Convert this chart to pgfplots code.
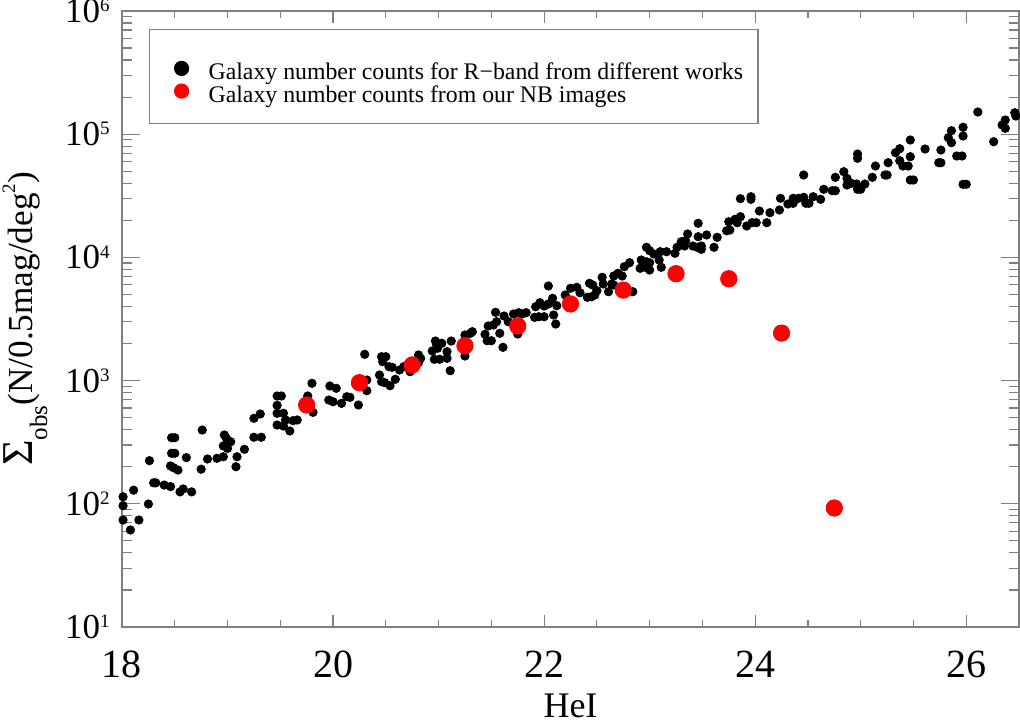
\documentclass[border=0pt]{standalone}
\usepackage{fontspec}
\setmainfont{Liberation Serif}
\usepackage{pgfplots}
\pgfplotsset{compat=1.18}
\definecolor{axgray}{RGB}{128,128,128}
\definecolor{nbred}{RGB}{255,0,0}
\newcommand{\pw}[1]{10\raisebox{5.4pt}{\fontsize{9.5pt}{9.5pt}\selectfont #1}}
\begin{document}
\begin{tikzpicture}
\begin{axis}[
  scale only axis, width=448.5pt, height=308pt,
  xmin=18, xmax=26.5, ymin=10, ymax=1e6, ymode=log,
  xtick={18,20,22,24,26}, xticklabels={18,20,22,24,26},
  minor x tick num=3,
  ytick={10,100,1000,10000,100000,1000000},
  yticklabels={\pw{1},\pw{2},\pw{3},\pw{4},\pw{5},\pw{6}},
  axis line style={axgray, line width=0.6pt},
  every tick/.style={axgray, line width=0.6pt},
  tick align=inside,
  major tick length=7.5pt, minor tick length=4.2pt,
  every major x tick/.append style={/pgfplots/major tick length=6pt},
  every minor x tick/.append style={/pgfplots/minor tick length=3.5pt},
  every major y tick/.append style={/pgfplots/major tick length=9pt},
  every minor y tick/.append style={/pgfplots/minor tick length=5pt},
  xticklabel style={font=\fontsize{20pt}{20pt}\selectfont, anchor=base, yshift=-25pt},
  yticklabel style={font=\fontsize{17.5pt}{17.5pt}\selectfont, anchor=east, inner sep=0pt, xshift=-6pt},
  xlabel={HeI},
  xlabel style={font=\fontsize{18pt}{18pt}\selectfont, at={(rel axis cs:0.5,-0.1461)}, anchor=base},
  ylabel={{\fontsize{22pt}{22pt}\selectfont Σ}\raisebox{-7.5pt}{\fontsize{12.5pt}{12.5pt}\selectfont obs}(N/0.5mag/deg\raisebox{8.5pt}{\fontsize{9.5pt}{9.5pt}\selectfont 2})},
  ylabel style={font=\fontsize{17.6pt}{17.6pt}\selectfont, at={(rel axis cs:-0.1003,0.5)}, anchor=base},
  legend cell align=left,
  legend style={at={(rel axis cs:0.0301,0.9708)}, anchor=north west, draw=axgray, line width=0.6pt,
    inner xsep=7.5pt, inner ysep=8.5pt, font=\fontsize{11.9pt}{13pt}\selectfont,
    nodes={inner sep=0pt}, row sep=0.3pt},
]
\addplot[only marks, mark=*, mark size=2.1pt, black,
  legend image code/.code={\fill[black] (0pt,2.3pt) circle (3.5pt); \path[draw=none,fill=none] (-8.5pt,-4pt) rectangle (13.5pt,13.2pt);}]
coordinates {
(18.01,114) (18.01,96.5) (18.01,73.9) (18.08,61.3) (18.16,73.9) (18.11,129) (18.25,99.6) (18.26,224)
(18.30,148) (18.32,148) (18.40,142) (18.46,138) (18.47,344) (18.50,344) (18.47,257) (18.50,257)
(18.46,203) (18.49,196) (18.53,188) (18.55,125) (18.58,132) (18.61,237) (18.66,125) (18.76,397)
(18.75,191) (18.81,231) (18.90,234) (18.96,241) (18.97,362) (18.99,340) (19.03,319) (18.96,295)
(19.00,282) (19.09,241) (19.08,200) (19.16,277) (19.25,494) (19.31,536) (19.25,347) (19.32,347)
(19.47,750) (19.51,750) (19.47,630) (19.47,543) (19.53,543) (19.47,436) (19.53,428) (19.55,479)
(19.59,390) (19.62,473) (19.66,479) (19.76,750) (19.81,553) (19.80,951) (19.97,904) (20.03,866)
(19.96,696) (20.00,674) (20.08,654) (20.13,740)
(20.16,732) (20.24,634) (20.30,1635) (20.32,1011) (20.32,828) (20.44,1110) (20.46,1563) (20.50,1563)
(20.47,1424) (20.46,980) (20.49,962) (20.54,909) (20.53,1297) (20.56,1282) (20.59,1025) (20.63,1219)
(20.67,1297) (20.81,1614) (20.83,1517) (20.81,1397) (20.73,1181) (20.94,1739) (20.97,2096) (20.98,1971)
(21.03,2008) (20.99,1829) (20.96,1489) (21.01,1489) (21.08,1717) (21.08,1517) (21.12,2096) (21.11,1203)
(21.25,1584) (21.25,2345) (21.30,2421) (21.32,2494) (21.44,2376) (21.46,2108) (21.50,2108) (21.47,2775)
(21.52,2827) (21.55,3007) (21.54,3584) (21.58,2421) (21.62,3345) (21.61,1863) (21.66,3007) (21.71,3472)
(21.76,3557) (21.79,3472) (21.83,3557) (21.75,2389) (21.91,3264) (21.95,3301) (22.00,3301) (21.92,3980)
(21.96,4288) (22.00,4032) (22.04,4185) (22.04,5860) (22.08,4656) (22.12,4055) (22.09,3408) (22.11,2880)
(22.20,4953) (22.25,5614) (22.31,5720) (22.34,5170) (22.43,6164) (22.46,5970) (22.41,4744) (22.45,4797)
(22.48,4953) (22.50,5367) (22.55,6895) (22.56,6083) (22.61,5268) (22.64,6083) (22.66,5970) (22.66,7063)
(22.70,7430) (22.74,7063) (22.76,8404) (22.81,9057) (22.84,5268) (22.91,8156) (22.96,8312) (23.00,7903)
(22.92,9526) (22.97,9229) (23.00,9057) (22.97,12080) (23.00,11334) (23.04,10656) (23.10,11124) (23.11,8312)
(23.09,9526) (23.16,11124) (23.24,10797) (23.26,12080) (23.30,13410) (23.33,12375) (23.34,13665) (23.36,15485)
(23.41,12375) (23.45,12080) (23.49,12375) (23.49,11636) (23.46,18915) (23.46,14723) (23.54,15199) (23.61,12080)
(23.64,14560) (23.73,16470) (23.76,16690) (23.75,19490) (23.81,20390) (23.86,21400) (23.83,19130) (23.86,29960)
(23.92,17980) (23.97,19130) (24.01,19130) (23.96,31100) (23.96,29620) (24.04,23800) (24.11,19130) (24.14,23060)
(24.23,24250) (24.24,30180)
(24.31,27140) (24.36,27490) (24.36,30180) (24.41,30180) (24.46,46650) (24.46,30740) (24.48,27490) (24.51,27490)
(24.55,31100) (24.62,29620) (24.65,35710) (24.73,34790) (24.76,34790) (24.76,44690) (24.84,49610) (24.87,43860)
(24.87,38700) (24.91,39950) (24.96,39430) (24.97,35710) (25.00,35710) (25.04,39430) (24.97,69070) (24.97,63740)
(25.11,44690) (25.14,55190) (25.23,46650) (25.25,46650) (25.26,58700) (25.33,70780) (25.37,76260) (25.37,60930)
(25.40,55190) (25.45,55190) (25.47,89740) (25.47,65680) (25.47,42490) (25.50,42490) (25.61,75840) (25.74,58700)
(25.76,58700) (25.76,74400) (25.83,93670) (25.86,85310) (25.86,106700) (25.91,66550) (25.96,66550) (25.97,113800)
(25.97,96690) (25.97,39210) (26.00,39210) (26.11,151400) (26.26,86910) (26.34,118800) (26.37,130400) (26.37,111700)
(26.46,149400) (26.47,140500)
};
\addlegendentry{Galaxy number counts for R−band from different works}
\addplot[only marks, mark=*, mark size=4.1pt, nbred,
  legend image code/.code={\fill[nbred] (0pt,2.3pt) circle (3.5pt); \path[draw=none,fill=none] (-8.5pt,-5.3pt) rectangle (13.5pt,4pt);}]
coordinates {
(19.75,634) (20.25,962) (20.75,1340) (21.25,1920) (21.75,2775) (22.25,4190)
(22.75,5430) (23.25,7380) (23.75,6710) (24.25,2430) (24.75,92.5)
};
\addlegendentry{Galaxy number counts from our NB images}
\end{axis}
\pgfresetboundingbox
\path (-61pt,-46.5pt) rectangle (449pt,313.5pt);
\end{tikzpicture}
\end{document}
